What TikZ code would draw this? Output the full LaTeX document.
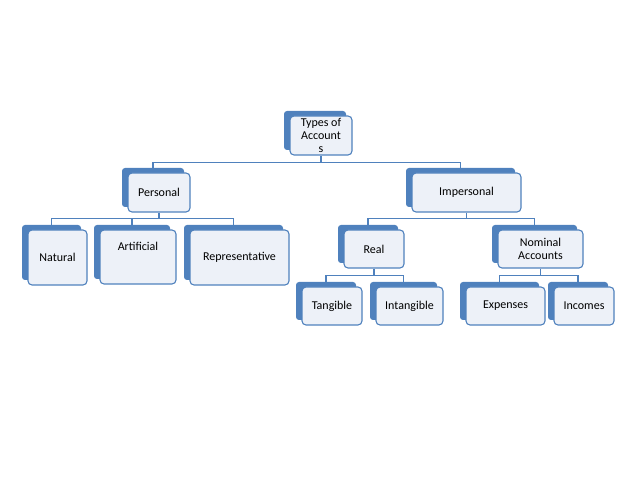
\documentclass[tikz,border=0pt]{standalone}
\usepackage{fontspec}
\setmainfont{Carlito}
\definecolor{accblue}{HTML}{4F81BD}
\definecolor{accfill}{HTML}{EDF1F8}
\tikzset{
  back/.style={fill=accblue, rounded corners=3pt},
  front/.style={draw=accblue, line width=1.1pt, fill=accfill, rounded corners=4pt, align=center, inner sep=1pt, font=\fontsize{12}{13}\selectfont},
  conn/.style={draw=accblue, line width=1.3pt}
}
\newcommand{\accbox}[6]{%
  \fill[back] (#2-6,#3-5) rectangle (#4-6,#5-5);
  \node[front, minimum width=#4-#2, minimum height=#5-#3] (#1) at ({(#2+#4)/2},{(#3+#5)/2}) {#6};}
\begin{document}
\begin{tikzpicture}[x=1pt,y=-1pt]
\useasboundingbox (0,0) rectangle (638,478);
\accbox{types}{290}{116}{352}{155}{Types of\\Account\\s}
\accbox{personal}{128}{173}{190}{212}{Personal}
\accbox{impersonal}{412}{173}{521}{212}{Impersonal}
\accbox{natural}{28}{230}{87}{285}{Natural}
\accbox{artificial}{100}{230}{176}{284}{Artificial\\[8pt]}
\accbox{repr}{190}{230}{289}{285}{Representative}
\accbox{real}{344}{230}{404}{268}{Real}
\accbox{nominal}{498}{230}{583}{268}{Nominal\\Accounts}
\accbox{tangible}{302}{287}{362}{325}{Tangible}
\accbox{intangible}{376}{287}{443}{325}{Intangible}
\accbox{expenses}{466}{287}{545}{325}{Expenses}
\accbox{incomes}{554}{287}{614}{325}{Incomes}
\begin{scope}[on background layer/.style={}]
\draw[conn] (types.south) -- ++(0,7) coordinate (t1) -| ([xshift=-6]personal.north);
\draw[conn] (t1) -| ([xshift=-6]impersonal.north);
\draw[conn] (personal.south) -- ++(0,6) coordinate (p1) -| ([xshift=-6]natural.north);
\draw[conn] (p1) -| ([xshift=-6]artificial.north);
\draw[conn] (p1) -| ([xshift=-6]repr.north);
\draw[conn] (impersonal.south) -- ++(0,6) coordinate (i1) -| ([xshift=-6]real.north);
\draw[conn] (i1) -| ([xshift=-6]nominal.north);
\draw[conn] (real.south) -- ++(0,7) coordinate (r1) -| ([xshift=-6]tangible.north);
\draw[conn] (r1) -| ([xshift=-6]intangible.north);
\draw[conn] (nominal.south) -- ++(0,7) coordinate (n1) -| ([xshift=-6]expenses.north);
\draw[conn] (n1) -| ([xshift=-6]incomes.north);
\end{scope}
\end{tikzpicture}
\end{document}
